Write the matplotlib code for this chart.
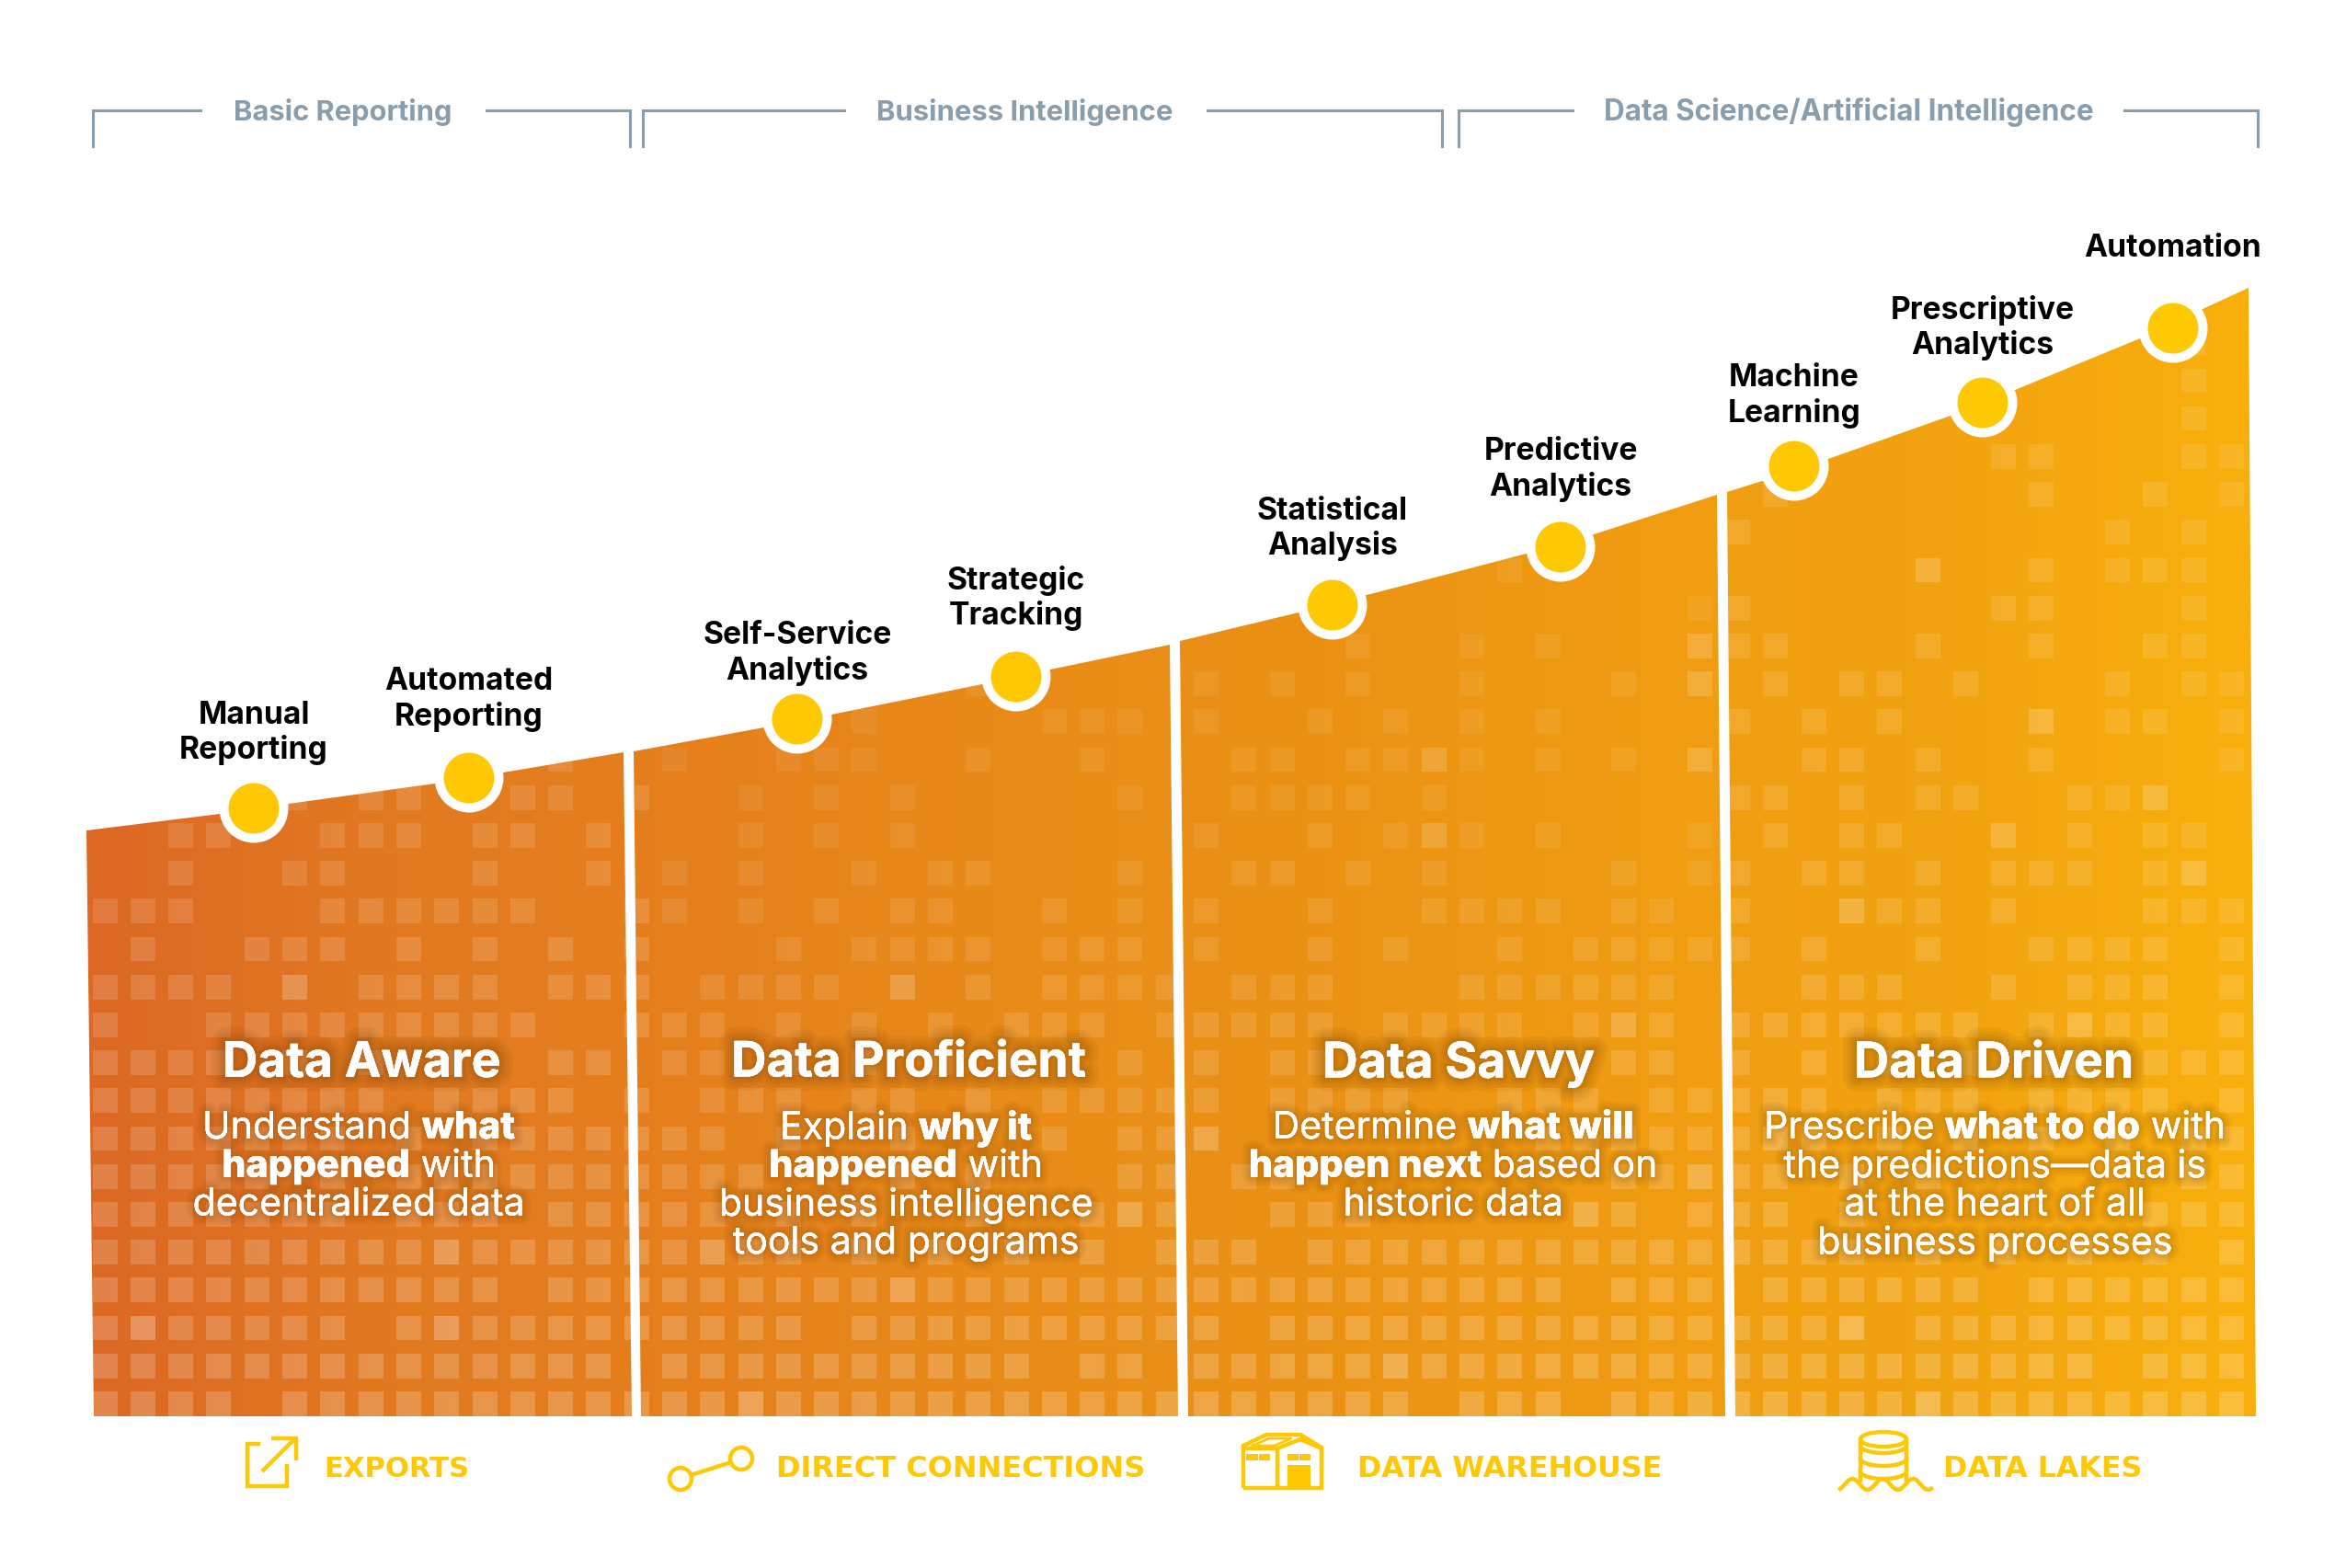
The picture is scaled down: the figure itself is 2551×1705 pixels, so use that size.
import numpy as np
import matplotlib
matplotlib.use("Agg")
import matplotlib.pyplot as plt
import matplotlib.patheffects as pe
from matplotlib.colors import LinearSegmentedColormap
from matplotlib.patches import Circle, Rectangle, Ellipse, PathPatch
from matplotlib.path import Path

W, H = 2551, 1705
FONT = "Inter"
GREY = "#8A9DAD"
YELLOW = "#FFC805"

# ---- group headers
header_labels = ["Basic Reporting", "Business Intelligence", "Data Science/Artificial Intelligence"]
header_left = [101, 699, 1586]
header_right = [685, 1568, 2455]
header_gap_left = [218, 918, 1710]
header_gap_right = [529, 1313, 2310]
header_text_width = [238, 323, 532]
header_text_center = [373, 1114, 2010]

# ---- panel outlines (top edge, left to right)
panel_a_x = [94, 239, 314, 473, 547, 678]
panel_a_y = [903, 885, 874, 852, 840, 818]
panel_b_x = [689, 831, 904, 1068, 1142, 1272]
panel_b_y = [817, 791, 777, 744, 728, 701]
panel_c_x = [1283, 1412, 1486, 1591, 1705, 1867]
panel_c_y = [697, 666, 647, 620, 590, 538]
panel_d_x = [1878, 1916, 1988, 2121, 2191, 2327, 2395, 2445]
panel_d_y = [535, 523, 499, 452, 424, 368, 336, 313]
panel_bottom_left = [102, 697, 1292, 1887]
panel_bottom_right = [687, 1281, 1876, 2453]
panel_bottom_y = 1540
gradient_colors = ["#DC6824", "#E27A20", "#E5801C", "#E98C18", "#EB9214", "#F09C12", "#F2A310", "#F9B00C"]

# ---- milestones
milestone_labels = ["Manual\nReporting", "Automated\nReporting", "Self-Service\nAnalytics", "Strategic\nTracking",
                    "Statistical\nAnalysis", "Predictive\nAnalytics", "Machine\nLearning",
                    "Prescriptive\nAnalytics", "Automation"]
milestone_x = [276, 510, 867, 1105, 1449, 1697, 1951, 2156, 2363]
milestone_y = [879, 846, 782, 736, 658, 595, 507, 438, 357]
milestone_line1_y = [778, 741, 691, 632, 556, 491, 411, 338, 270]

# ---- panel text
titles = ["Data Aware", "Data Proficient", "Data Savvy", "Data Driven"]
title_center = [393, 988, 1586, 2168]
title_width = [303, 386, 296, 305]
body_center = [390, 985, 1580, 2169]
body_a = [[("Understand ", 0), ("what", 1)], [("happened", 1), (" with", 0)], [("decentralized data", 0)]]
body_b = [[("Explain ", 0), ("why it", 1)], [("happened", 1), (" with", 0)], [("business intelligence", 0)], [("tools and programs", 0)]]
body_c = [[("Determine ", 0), ("what will", 1)], [("happen next", 1), (" based on", 0)], [("historic data", 0)]]
body_d = [[("Prescribe ", 0), ("what to do", 1), (" with", 0)], [("the predictions\u2014data is", 0)], [("at the heart of all", 0)], [("business processes", 0)]]

# ---- footer
footer_labels = ["EXPORTS", "DIRECT CONNECTIONS", "DATA WAREHOUSE", "DATA LAKES"]
footer_left = [352, 844, 1476, 2113]
footer_width = [158, 400, 331, 216]

# ---- background squares: index is the row counted from the bottom, values are column numbers
cells_a = [
    [0,1,2,3,5,6,7,8,9,10,11,12,13,14],
    [0,1,2,3,4,5,6,7,8,9,10,11,12,13],
    [0,1,2,3,4,5,6,8,9,10,11,12,13,14],
    [0,1,2,3,4,5,6,7,8,9,10,12,13,14],
    [0,1,2,3,4,5,6,7,8,9,10,11,12,13,14],
    [0,1,2,3,4,5,6,8,9,10,12,13,14],
    [0,1,2,3,4,6,8,9,10,11,12,13,14],
    [0,1,2,3,4,5,6,8,10,11,12,13,14],
    [0,1,2,3,4,5,6,7,9,10,11,12,14],
    [0,1,2,3,5,7,9,12,13],
    [0,3,4,5,6,7,8,9,10,11,14],
    [0,1,2,3,5,7,8,9,10,12,13,14],
    [1,4,5,6,8,10,12,14],
    [0,1,2,6,7,8,9,10,11,14],
    [2,5,6,10,13],
    [2,3,6,7,8,10,11,13],
    [5,7,8,11,12,14],
    [12],
]
cells_b = [
    [15,16,17,18,19,20,21,22,23,24,25,26,27,28],
    [15,16,17,18,19,20,21,22,23,24,26,27],
    [15,16,17,18,20,21,22,23,24,25,26,27,28],
    [15,16,17,18,19,20,21,22,23,24,25,26,27,28],
    [15,16,17,18,20,22,24,26,28],
    [15,16,18,20,23,26,27,28],
    [15,16,17,21,23,27,28],
    [15,16,18,21,25,27,28],
    [16,17,18,20,21,23,25,26,27,28],
    [15,16,18,20,22,24,27],
    [15,16,18,20,22,24,25,26,28],
    [16,17,18,19,21,23,25,26,27,28],
    [18,20,21,22,23,25,26,27],
    [15,17,19,21,22,25,27],
    [15,17,20,22,23,27],
    [17,19,21],
    [17,19,21,27],
    [15,18,19,20,23,26],
    [20,25,26,27],
    [23],
]
cells_c = [
    [29,30,31,32,33,34,36,37,38,40,41,42],
    [29,30,31,32,33,34,35,36,37,38,39,40,41,42],
    [29,31,32,33,34,35,36,37,38,39,40,41,42],
    [29,30,31,32,33,34,35,36,37,38,40,41,42],
    [29,30,32,33,34,35,36,37,38,39,40,41,42],
    [31,32,33,39,40,42],
    [30,31,40,41,42],
    [29,38,39,40,41,42],
    [29,31,32,33,34,37,38,39,41,42],
    [29,31,32,40,41],
    [29,30,31,32,34,35,36,37,39,40,41],
    [30,31,32,36,37,38,39,40,41],
    [29,32,34,37,39,40,41,42],
    [29,32,35,36,37,38,40,41],
    [30,31,33,35,40,42],
    [29,32,34,35,36,38,42],
    [30,31,32,33,35],
    [30,31,33,34,35,36,38,40,42],
    [29,32,34,36,38],
    [29,31,33,36,40,42],
    [33,36,38,42],
    [42],
    [37],
]
cells_d = [
    [43,44,45,46,47,48,49,50,51,52,53,54,55,56],
    [43,44,45,46,47,48,49,50,51,52,54,55,56],
    [43,44,45,46,48,49,50,51,52,53,54,55,56],
    [44,45,46,47,48,49,51,52,53,54,55,56],
    [43,44,45,46,48,50,52,54,56],
    [43,44,46,54,55,56],
    [43,44,46,48,55,56],
    [43,44,45,47,49,51,53,55,56],
    [43,44,45,47,48,49,51,52,53,54,56],
    [43,45,47,49,51,52,54,55,56],
    [43,44,45,46,47,48,49,51,52,53,54,56],
    [45,46,47,50,52,53,54,56],
    [43,45,48,51,52,53,54,56],
    [43,46,47,48,50,54,55,56],
    [43,45,46,48,50,51,52,54,55],
    [44,46,47,50,52,54,55],
    [43,44,46,48,49,52,53,54],
    [42,45,46,48,51,56],
    [43,45,47,51,53,54,56],
    [42,44,46,47,49,53,55,56],
    [42,43,44,48,51,54,55],
    [43,50,51,55],
    [48,51,53,54,55],
    [43,53,55],
    [44,51,54,56],
    [50,51,55,56],
    [55],
    [55],
    [55],
]
bright_cells = [(4,9),(2,1),(2,9),(11,5),(3,21),(17,35),(15,35),(10,40),(7,29),(5,39),(6,42),(1,34),
                (15,50),(14,55),(13,46),(16,54),(10,52),(7,44),(2,46),(0,48),(22,48),(18,51),(5,27),
                (4,16),(11,21),(0,17)]
block_upper_alpha = [0.12, 0.07, 0.075, 0.11]

fig = plt.figure(figsize=(W / 100, H / 100), dpi=100)
ax = fig.add_axes([0, 0, 1, 1])
renderer = fig.canvas.get_renderer()

# panels with a shared horizontal gradient
top_edges = [(panel_a_x, panel_a_y), (panel_b_x, panel_b_y), (panel_c_x, panel_c_y), (panel_d_x, panel_d_y)]
verts, codes = [], []
for (tx, ty), bl, br in zip(top_edges, panel_bottom_left, panel_bottom_right):
    pts = list(zip(tx, ty)) + [(br, panel_bottom_y), (bl, panel_bottom_y), (tx[0], ty[0])]
    verts += pts
    codes += [Path.MOVETO] + [Path.LINETO] * (len(pts) - 2) + [Path.CLOSEPOLY]
clip = PathPatch(Path(verts, codes), transform=ax.transData, fc="none", ec="none")
ax.add_patch(clip)
cmap = LinearSegmentedColormap.from_list("steps", gradient_colors)
im = ax.imshow(np.linspace(0, 1, 512)[None, :], cmap=cmap, aspect="auto",
               extent=(90, 2460, panel_bottom_y + 5, 300), zorder=1)
im.set_clip_path(clip)

col_x0, col_dx, row_y0, row_dy, cell_w, cell_h = 100.6, 41.29, 1513, 41.2, 27, 26.7
for block, lo in zip((cells_a, cells_b, cells_c, cells_d), block_upper_alpha):
    for r, cols in enumerate(block):
        for c in cols:
            a = lo + (0.20 - lo) * max(0.0, 1 - r / 16)
            if (r, c) in bright_cells:
                a += 0.08
            rect = Rectangle((col_x0 + col_dx * c, row_y0 - row_dy * r), cell_w, cell_h,
                             fc="white", ec="none", alpha=a, zorder=2)
            ax.add_patch(rect)
            rect.set_clip_path(clip)


def fit_size(s, width, family=FONT, **kw):
    t = ax.text(0, 0, s, fontsize=20, family=family, **kw)
    w = t.get_window_extent(renderer).width
    t.remove()
    return 20 * width / w


# headers
for lab, l, r, gl, gr, tw, tc in zip(header_labels, header_left, header_right, header_gap_left,
                                     header_gap_right, header_text_width, header_text_center):
    ax.plot([l, l, gl], [159, 120, 120], color=GREY, lw=2.2, solid_joinstyle="miter", zorder=3)
    ax.plot([gr, r, r], [120, 120, 159], color=GREY, lw=2.2, solid_joinstyle="miter", zorder=3)
    ax.text(tc, 122, lab, color=GREY, ha="center", va="center", family=FONT, fontweight="bold",
            fontsize=fit_size(lab, tw, fontweight="bold"), zorder=4)

# milestones
for lab, x, y, ly in zip(milestone_labels, milestone_x, milestone_y, milestone_line1_y):
    ax.add_patch(Circle((x, y), 37.5, fc="white", ec="none", zorder=5))
    ax.add_patch(Circle((x, y), 27.5, fc=YELLOW, ec="none", zorder=6))
    for i, line in enumerate(lab.split("\n")):
        ax.text(x, ly + 38 * i, line, color="black", ha="center", va="center", family=FONT,
                fontweight="bold", fontsize=24.2, zorder=7)

shadow_title = [pe.withStroke(linewidth=k, foreground="#6E3A00", alpha=0.07) for k in (22, 16, 11, 7, 4)] + [pe.Normal()]
shadow_body = [pe.withStroke(linewidth=k, foreground="#6E3A00", alpha=0.06) for k in (14, 10, 6, 3)] + [pe.Normal()]

# titles
for s, c, w in zip(titles, title_center, title_width):
    ax.text(c, 1157, s, color="white", ha="center", va="center", family=FONT, fontweight="bold",
            fontsize=fit_size(s, w, fontweight="bold"), zorder=8, path_effects=shadow_title)

# body copy: regular and bold runs on one centred line
BODY_SIZE = 29.6
for block, c in zip((body_a, body_b, body_c, body_d), body_center):
    for i, runs in enumerate(block):
        y = 1227 + 41.7 * i
        widths = []
        for s, bold in runs:
            t = ax.text(0, 0, s.replace(" ", "\u00a0"), fontsize=BODY_SIZE, family=FONT,
                        fontweight="heavy" if bold else "normal")
            widths.append(t.get_window_extent(renderer).width)
            t.remove()
        x = c - sum(widths) / 2
        for (s, bold), w in zip(runs, widths):
            ax.text(x, y, s.replace(" ", "\u00a0"), color="white", ha="left", va="center", family=FONT,
                    fontsize=BODY_SIZE, fontweight="heavy" if bold else "normal", zorder=8,
                    path_effects=shadow_body)
            x += w

# footer labels
for s, l, w in zip(footer_labels, footer_left, footer_width):
    ax.text(l, 1598, s, color=YELLOW, ha="left", va="center", family="DejaVu Sans", fontweight="bold",
            fontsize=fit_size(s, w, family="DejaVu Sans", fontweight="bold"), zorder=4)

# footer icons
ICON = dict(color=YELLOW, lw=3.2, solid_capstyle="butt", solid_joinstyle="miter", zorder=4)
ax.plot([283, 269, 269, 312, 312], [1570, 1570, 1616, 1616, 1592], **ICON)
ax.plot([285, 320], [1600, 1565], **ICON)
ax.plot([295, 322, 322], [1564, 1564, 1588], **ICON)

ax.add_patch(Circle((740, 1608), 12, fc="none", ec=YELLOW, lw=3.2, zorder=4))
ax.add_patch(Circle((806, 1586), 12, fc="none", ec=YELLOW, lw=3.2, zorder=4))
ax.plot([751, 795], [1604, 1590], **ICON)

ax.plot([1352, 1352, 1377, 1414, 1437, 1437, 1352], [1618, 1572, 1560, 1560, 1574, 1618, 1618], **ICON)
ax.plot([1352, 1389, 1389], [1575, 1575, 1618], **ICON)
ax.plot([1389, 1414, 1437], [1575, 1565, 1575], **ICON)
ax.plot([1362, 1380, 1404, 1386, 1362], [1572, 1564, 1564, 1572, 1572], color=YELLOW, lw=2, zorder=4)
ax.add_patch(Rectangle((1355, 1581), 13, 7, fc=YELLOW, ec="none", zorder=4))
ax.add_patch(Rectangle((1369, 1581), 12, 7, fc=YELLOW, ec="none", zorder=4))
ax.add_patch(Rectangle((1400, 1581), 12, 7, fc=YELLOW, ec="none", zorder=4))
ax.add_patch(Rectangle((1413, 1581), 12, 7, fc=YELLOW, ec="none", zorder=4))
ax.add_patch(Rectangle((1400, 1593), 25, 23, fc=YELLOW, ec="none", zorder=4))

ax.add_patch(Ellipse((2048, 1565), 50, 16, fc="none", ec=YELLOW, lw=3.2, zorder=4))
ax.plot([2023, 2023], [1565, 1612], **ICON)
ax.plot([2073, 2073], [1565, 1612], **ICON)
arc_t = np.linspace(0, np.pi, 40)
for yc in (1572, 1586, 1600):
    ax.plot(2048 + 25 * np.cos(arc_t), yc + 8 * np.sin(arc_t), color=YELLOW, lw=3.2, zorder=4)
wave_x = np.linspace(2001, 2100, 160)
ax.plot(wave_x, 1614 + 6 * np.sin((wave_x - 2001) / 99 * 2 * np.pi * 3 + 2.2), color=YELLOW, lw=3.2, zorder=4)

ax.set_xlim(0, W)
ax.set_ylim(H, 0)
ax.axis("off")
fig.savefig("out.png", dpi=100, facecolor="white")
